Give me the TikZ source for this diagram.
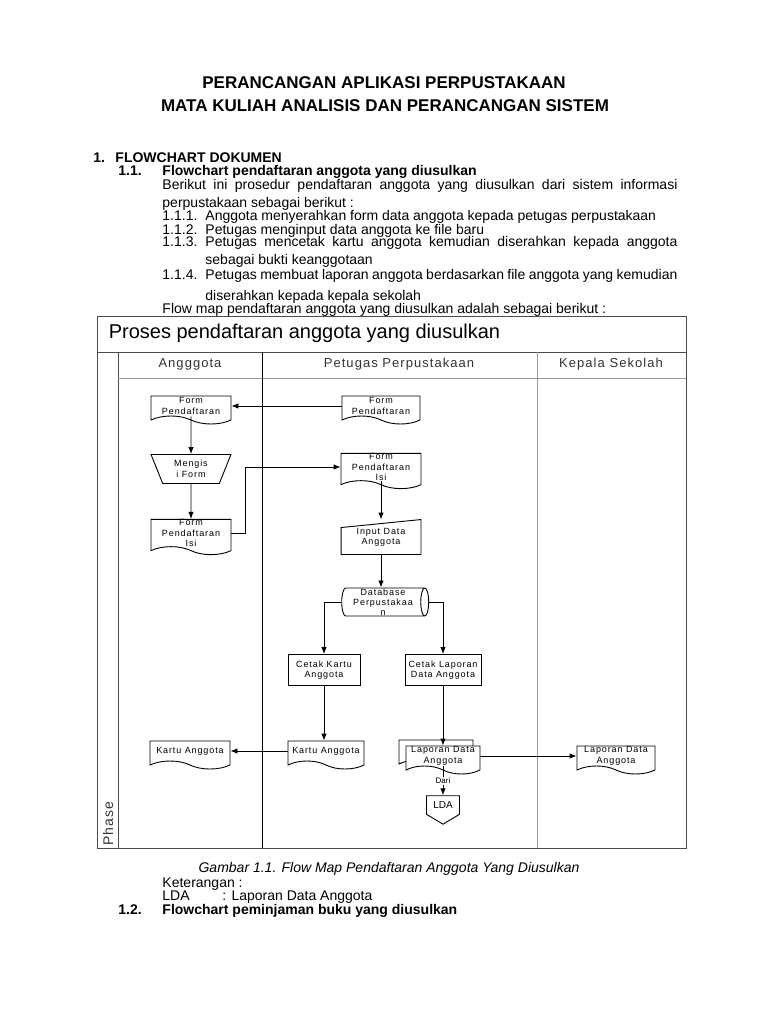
\documentclass[tikz,border=0pt]{standalone}
\usepackage{fontspec}
\setmainfont{Liberation Sans}
\newfontfamily\chartfont[LetterSpace=10]{Liberation Sans}
\newfontfamily\lanefont[LetterSpace=8]{Liberation Sans}
\usetikzlibrary{arrows.meta}
\usetikzlibrary{positioning}
\usetikzlibrary{shapes.geometric}
\usetikzlibrary{shapes.symbols}
\newcommand{\fsz}[1]{\fontsize{#1}{#1}\selectfont}

\begin{document}
\begin{tikzpicture}[x=1pt,y=-1pt,line width=0.9pt,
    body/.style={anchor=base west,inner sep=0pt,font=\fsz{14}},
    bodyb/.style={anchor=base west,inner sep=0pt,font=\fsz{14}\bfseries},
    doc/.style={draw,fill=white,tape,tape bend top=none,tape bend bottom=out and in,
        tape bend height=8pt,minimum width=80pt,minimum height=28pt,inner sep=0pt,
        align=center,font=\chartfont\fontsize{9}{10.5}\selectfont},
    proc/.style={draw,fill=white,minimum width=74pt,minimum height=31pt,inner sep=0pt,
        align=center,font=\chartfont\fontsize{9}{10.5}\selectfont},
    lane/.style={font=\lanefont\fsz{13},text=black!80},
    frame/.style={draw=black!70,line width=0.9pt},
    thin/.style={draw=black!40,line width=0.7pt},
    arr/.style={-{Latex[length=7pt,width=5.5pt]}}]
\useasboundingbox (0,0) rectangle (768,1024);

% Titles
\node [font=\fsz{17}\bfseries] (t1) at (384,83) {PERANCANGAN APLIKASI PERPUSTAKAAN};
\node [font=\fsz{17}\bfseries] (t2) at (385,106) {MATA KULIAH ANALISIS DAN PERANCANGAN SISTEM};

% Text before the figure
\node [bodyb] (n1) at (93,163) {1.};
\node [bodyb] (h1) at (115,163) {FLOWCHART DOKUMEN};
\node [bodyb] (n11) at (118,176) {1.1.};
\node [bodyb] (h11) at (162,176) {Flowchart pendaftaran anggota yang diusulkan};
\node [body] (p1) at (162,190) {\makebox[515pt][s]{Berikut ini prosedur pendaftaran anggota yang diusulkan dari sistem informasi}};
\node [body] (p2) at (162,208) {perpustakaan sebagai berikut :};
\node [body] (n111) at (162,221) {1.1.1.};
\node [body] (s111) at (205,221) {Anggota menyerahkan form data anggota kepada petugas perpustakaan};
\node [body] (n112) at (162,234) {1.1.2.};
\node [body] (s112) at (205,234) {Petugas menginput data anggota ke file baru};
\node [body] (n113) at (162,247) {1.1.3.};
\node [body] (s113) at (205,247) {\makebox[472pt][s]{Petugas mencetak kartu anggota kemudian diserahkan kepada anggota}};
\node [body] (s113b) at (205,264) {sebagai bukti keanggotaan};
\node [body] (n114) at (162,279) {1.1.4.};
\node [body] (s114) at (205,279) {\makebox[472pt][s]{Petugas membuat laporan anggota berdasarkan file anggota yang kemudian}};
\node [body] (s114b) at (205,300) {diserahkan kepada kepala sekolah};
\node [body] (p3) at (162,313) {Flow map pendaftaran anggota yang diusulkan adalah sebagai berikut :};

% Frame and swimlanes
\draw [frame] (97,316) rectangle (686,848);
\draw [frame] (97,352) -- (686,352);
\draw [frame] (118,352) -- (118,848);
\draw [thin] (118,378) -- (686,378);
\draw [line width=1pt] (262,352) -- (262,848);
\draw [thin] (537,352) -- (537,848);
\node [anchor=west,font=\fsz{20}] (proses) at (105,333) {Proses pendaftaran anggota yang diusulkan};
\node [lane] (laneA) at (190,364) {Angggota};
\node [lane] (laneP) at (399,364) {Petugas Perpustakaan};
\node [lane] (laneK) at (611,364) {Kepala Sekolah};
\node [lane,font=\lanefont\fsz{14},rotate=90,anchor=west,inner sep=0pt] (phase) at (108,846) {Phase};

% Place nodes
\node [doc] (formA) at (191,406) {Form\\Pendaftaran};
\node [doc,minimum width=78pt] (formP) at (381,406) {Form\\Pendaftaran};
\node [draw,fill=white,trapezium,shape border rotate=180,trapezium stretches=true,
       trapezium left angle=68,trapezium right angle=68,minimum width=80pt,minimum height=29pt,
       inner sep=0pt,align=center,font=\chartfont\fontsize{9}{10.5}\selectfont] (isi) at (191,469) {Mengis\\i Form};
\node [doc,minimum height=31pt] (formIsiA) at (191,533) {Form\\Pendaftaran\\Isi};
\node [doc,minimum height=34pt] (formIsiP) at (381,467) {Form\\Pendaftaran\\Isi};
\node [minimum width=79pt,minimum height=34pt,inner sep=0pt,align=center,
       font=\chartfont\fontsize{9}{10.5}\selectfont] (input) at (381,537) {\\[-4pt]Input Data\\Anggota};
\draw (input.south west) -- (input.south east) -- (input.north east)
      -- ([yshift=-8pt]input.north west) -- cycle;
\node [draw,fill=white,cylinder,minimum width=28pt,minimum height=87pt,aspect=0.3,inner sep=0pt,
       align=center,font=\chartfont\fontsize{9}{10}\selectfont] (db) at (383,602) {Database\\Perpustakaa\\n};
\node [proc,minimum width=72pt] (cetakK) at (324,670) {Cetak Kartu\\Anggota};
\node [proc,minimum width=76pt] (cetakL) at (443,670) {Cetak Laporan\\Data Anggota};
\node [doc,minimum width=76pt] (kartuP) at (326,751) {Kartu Anggota};
\node [doc] (kartuA) at (190,751) {Kartu Anggota};
\node [doc,minimum width=74pt] (lapBack) at (436,750) {\phantom{X}};
\node [doc,minimum width=74pt] (lapF) at (443,756) {Laporan Data\\Anggota};
\node [doc,minimum width=78pt] (lapK) at (616,756) {Laporan Data\\Anggota};
\node [draw,fill=white,signal,signal to=south,signal from=nowhere,signal pointer angle=118,
       minimum width=33pt,minimum height=25pt,inner sep=1pt,font=\fsz{10}] (lda) at (443,805) {LDA};

% Connectors
\draw [arr] (formP.west) -- (formA.east);
\draw [arr] (formA.south) -- (isi.north);
\draw [arr] (isi.south) -- (formIsiA.north);
\draw [arr] (formIsiA.east) -- ++(14,0) |- (formIsiP.west);
\draw [arr] (formIsiP.south) -- (input.north);
\draw [arr] (input.south) -- (input.south |- db.north);
\draw [arr] (db.west) -| (cetakK.north);
\draw [arr] (db.east) -| (cetakL.north);
\draw [arr] (cetakK.south) -- (kartuP.north -| cetakK.south);
\draw [arr] (cetakL.south) -- (lapF.north);
\draw [arr] (kartuP.west) -- (kartuA.east);
\draw [arr] (lapF.east) -- (lapK.west);
\draw [arr] (lapF.south) -- (lda.north)
      node [midway,fill=white,inner sep=1pt,font=\fsz{8}] {Dari};

% Caption and text after the figure
\node [font=\fsz{14}\itshape] (cap) at (389,869) {Gambar 1.1. Flow Map Pendaftaran Anggota Yang Diusulkan};
\node [body] (ket) at (162,887) {Keterangan :};
\node [body] (lda1) at (162,900) {LDA};
\node [body] (lda2) at (222,900) {: Laporan Data Anggota};
\node [bodyb] (n12) at (118,914) {1.2.};
\node [bodyb] (h12) at (162,914) {Flowchart peminjaman buku yang diusulkan};
\end{tikzpicture}
\end{document}
